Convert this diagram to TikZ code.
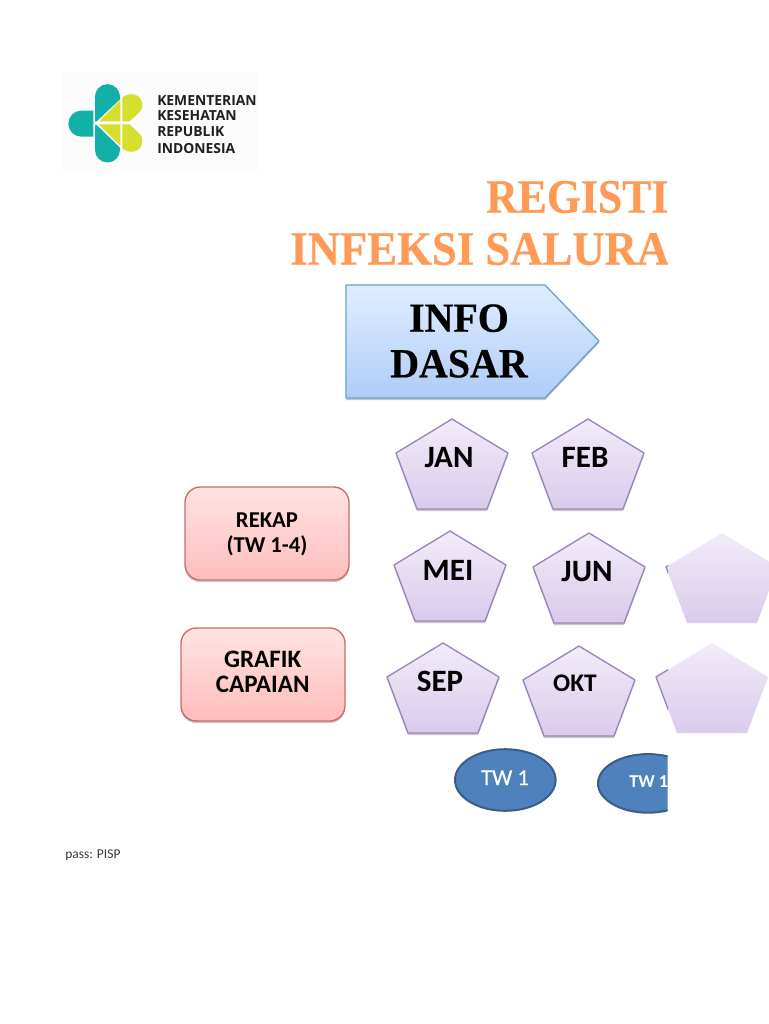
\documentclass[tikz,border=0pt]{standalone}
\usepackage{fontspec}
\setmainfont{Liberation Serif}
\newfontfamily\calf{Carlito}
\newfontfamily\calh[FakeBold=0.5]{Carlito}
\newfontfamily\logof{Open Sans}
\newfontfamily\titlef[FakeStretch=0.91,FakeBold=0.5]{Liberation Serif Bold}
\newfontfamily\titleg[FakeStretch=0.932,FakeBold=0.5]{Liberation Serif Bold}
\newfontfamily\bigf[FakeStretch=0.965,FakeBold=0.5]{Liberation Serif Bold}
\usetikzlibrary{shadows}
\definecolor{orangetitle}{HTML}{FF9B57}
\definecolor{teal1}{HTML}{12B0A6}
\definecolor{lime1}{HTML}{D6DE2E}
\definecolor{pentTop}{HTML}{F2ECF9}\definecolor{pentBot}{HTML}{DACAEC}\definecolor{pentLine}{HTML}{9A85B8}
\definecolor{paleTop}{HTML}{F2ECF9}\definecolor{paleBot}{HTML}{DACAEC}
\definecolor{redTop}{HTML}{FFE3E3}\definecolor{redBot}{HTML}{FFBDBC}\definecolor{redLine}{HTML}{CB6A68}
\definecolor{blueTop}{HTML}{E0EDFF}\definecolor{blueBot}{HTML}{AFCDF8}\definecolor{blueLine}{HTML}{6BA0D2}
\definecolor{ovalFill}{HTML}{4F81BD}\definecolor{ovalLine}{HTML}{385D8A}
\tikzset{
 softshadow/.style={drop shadow={shadow xshift=0pt,shadow yshift=-1.6pt,opacity=.22,fill=black}},
 pent/.style={draw=pentLine,line width=1pt,line join=round,top color=pentTop,bottom color=pentBot,softshadow},
 pale/.style={top color=paleTop,bottom color=paleBot},
 redbox/.style={draw=redLine,line width=1pt,rounded corners=11.5pt,top color=redTop,bottom color=redBot,softshadow},
 arrowbox/.style={draw=blueLine,line width=1pt,line join=round,top color=blueTop,bottom color=blueBot,softshadow},
 oval/.style={draw=ovalLine,line width=1.5pt,fill=ovalFill},
 pentlabel/.style={anchor=base,font=\calf\bfseries\fontsize{23.3}{24}\selectfont,text=black,inner sep=0pt},
 logotext/.style={anchor=base west,inner sep=0pt,text=black!88,font=\logof\bfseries\fontsize{10.4}{11}\selectfont},
 titletext/.style={anchor=base west,inner sep=0pt,text=orangetitle,font=\titlef\fontsize{36}{36}\selectfont},
 bigtext/.style={anchor=base,inner sep=0pt,text=black,font=\bigf\fontsize{31}{31}\selectfont},
 boxtext/.style={anchor=base,inner sep=0pt,text=black,font=\calf\bfseries\fontsize{17}{18}\selectfont},
 boxtextb/.style={anchor=base,inner sep=0pt,text=black,font=\calf\bfseries\fontsize{18.8}{19}\selectfont},
}
\newcommand{\pentpath}[2]{(#1,#2) -- ++(56,34) -- ++(-21,56) -- ++(-70,0) -- ++(-21,-56) -- cycle}
\begin{document}
\begin{tikzpicture}[x=.75pt,y=-.75pt]
\useasboundingbox (0,0) rectangle (768,1024);
\fill[white] (0,0) rectangle (768,1024);
% logo
\fill[black!1] (62,72) rectangle (258,172);
\begin{scope}[shift={(50,60)},x=.25pt,y=-.25pt]
 \fill[teal1] (135,110) arc[start angle=180,end angle=360,radius=37.5] -- (210,118) -- (140,184) -- (135,184) -- cycle;
 \fill[teal1] (135,195) -- (140,195) -- (210,263) -- (210,270) arc[start angle=0,end angle=180,radius=37.5] -- cycle;
 \fill[teal1] (130,152) -- (130,230) -- (94,230) arc[start angle=90,end angle=270,radius=39] -- cycle;
 \fill[lime1] (147,184) -- (211,120) -- (211,184) -- cycle;
 \fill[lime1] (217,184) -- (217,112) .. controls (240,95) and (277,100) .. (277,138) .. controls (277,152) and (265,160) .. (238,184) -- cycle;
 \fill[lime1] (147,193) -- (211,193) -- (211,257) -- cycle;
 \fill[lime1] (217,193) -- (238,193) .. controls (265,217) and (277,226) .. (277,240) .. controls (277,278) and (240,283) .. (217,266) -- cycle;
\end{scope}
\node[logotext] (logoa) at (157,105) {KEMENTERIAN};
\node[logotext] (logob) at (157,120.7) {KESEHATAN};
\node[logotext] (logoc) at (157,137) {REPUBLIK};
\node[logotext] (logod) at (157,153) {INDONESIA};
% title, cut at the right edge
\begin{scope}
 \clip (0,0) rectangle (668,1024);
 \node[titletext] (titlea) at (486,212.7) {REGISTI};
 \node[titletext,font=\titleg\fontsize{36}{36}\selectfont] (titleb) at (290,264.7) {INFEKSI SALURA};
\end{scope}
% info dasar
\path[arrowbox] (346,285) -- (545,285) -- (599,341) -- (545,398) -- (346,398) -- cycle;
\node[bigtext] (info) at (459,331.7) {INFO};
\node[bigtext] (dasar) at (459,377.3) {DASAR};
% pentagons
\path[pent] \pentpath{452}{419};
\path[pent] \pentpath{588}{419};
\path[pent] \pentpath{450}{531};
\path[pent] \pentpath{589}{533};
\path[pent] \pentpath{443}{643};
\path[pent] \pentpath{579}{646};
\node[pentlabel] (jan) at (449,467.7) {JAN};
\node[pentlabel] (feb) at (585,467.7) {FEB};
\node[pentlabel] (mei) at (448,580.3) {MEI};
\node[pentlabel] (jun) at (587,581) {JUN};
\node[pentlabel] (sep) at (440,691) {SEP};
\node[pentlabel,font=\calf\bfseries\fontsize{19}{19}\selectfont] (okt) at (575,691.2) {OKT};
% pale pentagons at right
\path[pale] \pentpath{722}{533};
\path[pale] \pentpath{712}{643};
\begin{scope}
 \clip (650,500) rectangle (668,760);
 \draw[pentLine,line width=1pt,line join=round] \pentpath{722}{533};
 \draw[pentLine,line width=1pt,line join=round] \pentpath{712}{643};
\end{scope}
% red boxes
\path[redbox] (185,487) rectangle (349,580);
\path[redbox] (181,628) rectangle (345,721);
\node[boxtext] (rekap) at (267,527.7) {REKAP};
\node[boxtext] (tw) at (267,552) {(TW 1-4)};
\node[boxtextb] (grafik) at (262.7,667.7) {GRAFIK};
\node[boxtextb] (capaian) at (262.7,692.7) {CAPAIAN};
% ovals
\path[oval] (505.3,780) ellipse[x radius=50.3,y radius=30.8];
\node[anchor=base,inner sep=0pt,text=white,font=\calh\fontsize{17}{18}\selectfont] (twa) at (505,785) {TW 1};
\begin{scope}
 \clip (0,0) rectangle (667.5,1024);
 \path[oval] (648,783.4) ellipse[x radius=50,y radius=29.3];
 \node[anchor=base west,inner sep=0pt,text=white,font=\calf\bfseries\fontsize{13.6}{14}\selectfont] (twb) at (629,787) {TW 1-};
\end{scope}
\node[anchor=base west,inner sep=0pt,text=black!78,font=\calf\fontsize{10.1}{11}\selectfont] (pass) at (65,858) {pass: PISP};
\end{tikzpicture}
\end{document}
